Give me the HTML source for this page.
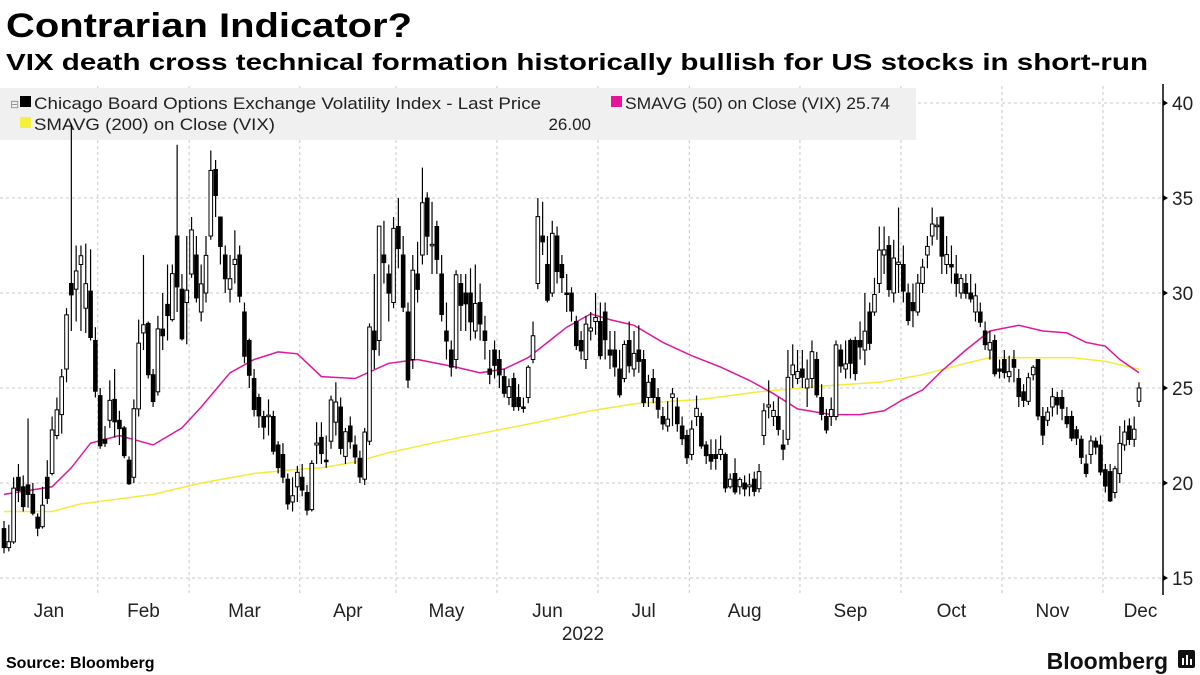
<!DOCTYPE html>
<html><head><meta charset="utf-8"><style>
body{margin:0;background:#fff;width:1200px;height:675px;overflow:hidden;font-family:"Liberation Sans",sans-serif}
svg{display:block}
</style></head><body>
<svg id="c" width="1200" height="675">
<text x="6" y="37" font-size="34" font-weight="bold" fill="#000" textLength="406" lengthAdjust="spacingAndGlyphs">Contrarian Indicator?</text>
<text x="6" y="70" font-size="23" font-weight="bold" fill="#000" textLength="1142" lengthAdjust="spacingAndGlyphs">VIX death cross technical formation historically bullish for US stocks in short-run</text>
<g id="grid"></g>
<rect x="0" y="88" width="916" height="52" fill="#f0f0f0"/>
<g font-size="17" fill="#222">
<g><text x="10" y="108" font-size="11" fill="#888">⊟</text><rect x="20" y="96" width="11" height="11" fill="#000"/><text x="34" y="109" textLength="507" lengthAdjust="spacingAndGlyphs">Chicago Board Options Exchange Volatility Index - Last Price</text></g>
<g><rect x="611" y="96" width="11" height="11" fill="#e6139b"/><text x="625" y="109" textLength="265" lengthAdjust="spacingAndGlyphs">SMAVG (50)  on Close (VIX) 25.74</text></g>
<g><rect x="20" y="117" width="11" height="11" fill="#f5f03c"/><text x="34" y="130" textLength="241" lengthAdjust="spacingAndGlyphs">SMAVG (200)  on Close (VIX)</text><text x="591" y="130" text-anchor="end">26.00</text></g>
</g>
<g id="lines"></g>
<g id="candles"></g>
<line x1="1163" y1="84" x2="1163" y2="595" stroke="#000" stroke-width="1.5"/>
<g id="yax"></g>
<g id="xax"></g>
<text x="583" y="640" font-size="19" text-anchor="middle" fill="#222">2022</text>
<text x="6" y="668" font-size="16" font-weight="bold" fill="#000">Source: Bloomberg</text>
<text x="1168" y="669" font-size="23" font-weight="bold" text-anchor="end" fill="#111">Bloomberg</text>
<g><rect x="1178" y="650" width="17" height="18" rx="2" fill="#111"/><rect x="1182" y="658" width="2" height="7" fill="#fff"/><rect x="1186" y="655" width="2" height="10" fill="#fff"/><rect x="1190" y="659" width="2" height="6" fill="#fff"/></g>
</svg>
<script>
const opens=[17.6,16.6,16.9,20.3,19.8,19.9,19.4,18.2,17.7,20.3,20.5,22.5,23.6,26.0,30.5,30.2,31.5,29.2,30.1,27.5,
24.6,22.3,23.3,24.4,23.3,22.9,21.2,20.3,23.9,27.9,28.4,25.7,24.8,28.1,29.4,28.6,33.0,30.2,29.5,
31.0,32.0,29.0,30.0,33.0,36.5,34.0,32.0,30.2,31.5,32.0,29.0,27.5,25.5,24.5,23.5,23.5,23.5,22.0,21.5,20.2,19.0,19.8,
20.3,19.5,18.6,22.0,22.4,21.2,22.2,23.2,24.0,21.4,23.0,22.0,21.3,20.2,22.2,28.0,27.5,32.0,31.0,29.5,
33.5,32.0,29.0,26.5,31.0,32.0,35.0,32.5,33.5,31.0,28.0,27.0,26.5,30.5,30.0,30.0,28.0,29.5,28.0,26.0,27.0,
26.5,25.6,24.5,25.5,24.5,24.0,24.5,26.5,30.5,33.0,31.5,30.0,33.0,31.5,30.0,30.0,28.5,27.5,26.5,28.0,28.5,
28.5,29.0,27.0,27.0,26.0,25.5,27.5,26.0,27.0,26.5,24.5,25.5,24.5,23.5,23.0,24.5,24.0,23.0,22.5,
21.5,23.5,23.5,22.0,21.5,21.5,21.5,21.5,19.8,20.5,19.8,20.0,19.8,20.2,19.7,22.5,24.0,23.5,23.5,22.0,22.3,25.7,25.5,
26.0,25.0,25.5,26.5,24.5,23.5,23.5,23.5,27.0,26.0,27.5,27.5,27.5,27.0,29.0,29.0,30.5,32.0,32.5,30.0,31.5,
31.5,30.0,29.5,29.0,30.5,32.0,33.0,33.5,34.0,31.5,31.5,31.0,30.0,30.5,30.0,29.0,29.0,28.0,27.0,27.5,26.0,
26.5,25.6,26.5,25.5,24.8,24.3,25.7,26.5,23.5,23.3,24.0,24.5,24.5,23.5,23.5,22.8,22.3,21.0,21.5,22.2,22.0,
20.7,20.6,19.5,20.5,22.0,23.0,22.3,24.3];
const highs=[18.0,17.8,20.3,21.0,20.4,23.4,20.0,18.4,19.8,21.2,23.5,24.5,26.0,29.2,38.9,32.5,32.5,32.6,32.3,28.2,
25.0,23.0,25.4,26.0,23.8,23.0,21.4,24.4,28.6,32.0,28.5,26.0,28.8,30.0,31.5,31.5,37.8,31.0,33.0,
34.0,33.0,31.5,33.0,37.5,37.0,34.0,32.5,32.0,33.3,32.5,29.5,27.6,26.0,24.7,23.8,24.4,23.8,22.2,22.1,20.5,20.3,20.9,
21.0,19.9,21.2,23.2,23.2,22.5,24.6,25.3,24.5,22.9,23.5,22.5,21.7,22.9,28.4,31.0,33.5,33.8,31.5,34.0,
35.0,33.0,29.5,32.0,32.7,36.6,35.3,34.8,33.8,32.0,29.5,27.5,31.2,31.0,31.0,31.3,31.5,30.5,28.8,27.0,27.5,
27.0,26.0,25.5,25.8,25.2,24.5,26.2,28.5,35.0,34.8,33.0,33.8,33.5,32.0,31.0,30.3,28.8,28.0,28.8,29.0,30.0,
29.5,29.5,28.0,28.0,27.0,27.5,28.5,28.0,28.3,27.0,25.7,26.0,25.0,24.0,24.3,25.0,24.5,23.5,22.8,
23.3,24.6,23.7,22.2,22.3,22.3,22.5,21.6,20.5,21.3,20.3,20.4,20.5,20.6,21.0,24.2,25.4,24.3,24.5,22.8,27.0,27.3,27.0,
27.0,26.5,27.5,26.9,25.2,23.9,24.5,27.5,27.3,27.5,27.6,27.7,28.5,30.0,29.5,30.8,33.5,33.5,33.0,32.8,34.5,
32.5,30.5,30.5,31.0,31.8,33.0,34.5,34.0,34.0,33.0,32.5,32.0,31.0,31.0,31.0,30.5,29.5,28.5,28.0,27.8,26.5,
27.0,26.7,27.0,26.0,25.2,25.8,26.2,26.5,24.0,24.0,25.0,24.8,24.9,24.0,23.8,23.0,22.5,21.5,22.5,22.4,22.5,
21.0,21.0,20.9,23.0,23.3,23.4,23.5,25.3];
const lows=[16.3,16.4,16.8,19.0,18.5,18.7,18.3,17.2,17.6,18.9,20.4,22.3,22.6,25.3,28.0,28.5,28.0,27.9,27.5,24.5,
21.8,21.9,22.9,22.4,22.0,21.3,19.9,20.0,23.5,27.0,25.5,24.0,24.6,27.0,27.5,28.5,29.0,27.5,27.3,
30.8,29.5,28.5,29.5,32.8,34.0,31.5,30.0,29.5,30.5,29.5,26.3,25.0,23.5,22.9,22.3,22.5,21.5,20.5,20.0,18.6,18.5,19.0,
19.3,18.3,18.5,21.0,21.0,20.8,21.8,22.5,21.5,21.0,21.8,21.0,20.0,19.9,22.0,26.0,26.7,30.5,28.5,29.2,
31.3,29.0,25.0,26.0,29.5,31.5,32.0,31.0,31.0,28.5,26.5,25.6,26.0,28.0,28.0,27.5,27.6,27.5,26.5,25.2,25.5,
25.0,24.5,24.1,23.8,23.8,23.7,24.2,26.3,30.2,32.0,29.5,29.8,30.5,30.0,29.0,28.5,27.0,26.5,26.0,27.5,27.8,
26.5,26.5,26.0,25.6,24.5,25.3,25.8,25.6,25.8,24.0,24.0,24.2,23.4,22.8,22.7,23.0,22.7,22.0,21.0,
21.2,23.0,21.8,21.0,20.7,20.7,21.2,19.5,19.7,19.4,19.4,19.3,19.3,19.3,19.5,22.0,23.4,23.0,22.5,21.2,22.0,25.0,25.2,
25.0,24.0,25.0,24.5,23.3,22.6,23.0,23.3,25.8,25.5,25.5,25.4,26.5,26.2,27.0,28.8,30.0,31.0,29.8,29.5,30.0,
29.5,28.3,28.2,28.8,30.0,31.3,32.5,32.8,31.0,31.0,30.5,29.8,29.7,29.7,29.5,28.5,28.2,27.0,26.5,25.6,25.5,
25.5,25.3,25.3,24.0,24.0,24.1,25.4,23.3,22.0,23.0,23.5,23.6,23.3,22.9,22.2,22.0,21.0,20.3,21.0,21.5,20.4,
19.5,19.0,19.2,20.0,21.7,22.0,21.9,24.0];
const closes=[16.60,16.91,19.73,19.61,18.76,19.40,18.41,17.62,18.83,19.19,22.79,23.85,25.59,28.85,29.90,31.16,31.96,30.49,27.66,24.83,
21.96,22.09,24.35,23.22,22.86,21.44,19.96,23.91,27.36,28.33,25.70,24.29,28.11,27.75,28.81,31.02,30.32,27.59,30.15,
33.32,29.74,30.48,31.98,36.45,35.13,32.45,30.75,30.75,31.77,29.83,26.67,25.67,23.87,23.53,22.94,23.57,21.67,20.81,20.31,18.90,19.33,20.56,
19.63,18.57,21.03,22.10,21.55,21.16,24.37,24.26,21.82,22.70,22.17,21.37,20.32,22.68,28.21,27.02,33.52,31.60,29.99,33.40,
32.34,29.25,25.42,31.20,30.19,34.75,32.99,32.56,31.77,28.87,27.47,26.10,30.96,29.35,29.43,28.48,29.45,28.37,27.50,25.72,26.19,
25.69,24.72,25.07,24.02,24.02,23.96,26.09,27.75,34.02,32.69,29.62,33.14,31.13,30.81,29.95,29.05,27.23,26.95,28.36,28.16,28.71,
26.70,27.54,26.73,26.11,24.64,27.29,26.17,26.82,26.40,24.23,25.30,24.50,23.88,23.11,23.36,24.69,23.12,22.33,21.33,
22.84,23.93,21.95,21.44,21.15,21.29,21.77,19.74,20.20,19.53,20.18,19.69,19.90,19.56,20.60,23.80,24.11,23.82,22.82,21.78,25.56,26.21,25.87,
25.56,25.47,26.91,24.64,23.61,22.79,23.87,27.27,26.16,26.27,26.30,25.76,27.16,27.99,27.35,29.92,32.26,32.27,30.18,31.84,31.62,
30.10,28.55,29.07,30.52,31.36,32.45,33.63,33.57,31.94,32.02,31.37,30.50,30.76,29.98,29.69,29.85,28.46,27.28,27.39,25.75,25.88,
25.81,25.86,26.09,24.55,24.35,25.54,26.09,23.53,22.52,23.73,24.54,24.11,23.93,23.12,22.36,22.36,21.35,20.50,22.21,21.89,20.58,
19.84,19.06,20.75,22.08,22.68,22.29,22.83,25.00];
const sma50Days=[0,10,14,18,24,31,37,41,47,52,57,61,66,73,80,86,94,99,104,109,113,117,122,126,131,137,143,149,155,160,165,172,178,183,187,191,195,200,205,211,216,221,225,229,232,236];
const sma50Vals=[19.4,19.8,20.8,22.1,22.5,22.0,22.9,24.0,25.8,26.5,26.9,26.8,25.6,25.5,26.3,26.5,26.1,25.8,26.0,26.6,27.4,28.2,28.9,28.6,28.3,27.4,26.7,26.1,25.4,24.7,23.9,23.6,23.6,23.8,24.4,24.9,25.9,27.0,28.0,28.3,28.0,27.9,27.4,27.2,26.5,25.8];
const sma200Days=[0,10,16,31,41,52,60,66,73,80,91,101,109,122,132,145,157,170,182,191,200,205,216,222,229,236];
const sma200Vals=[18.5,18.5,18.9,19.4,20.0,20.5,20.7,20.8,21.1,21.6,22.2,22.7,23.1,23.8,24.2,24.4,24.8,25.1,25.3,25.7,26.3,26.6,26.6,26.6,26.4,26.0];
const yTicks=[15,20,25,30,35,40];
const monthLabels=["Jan","Feb","Mar","Apr","May","Jun","Jul","Aug","Sep","Oct","Nov","Dec"];
const monthStarts=[0,20,39,62,82,103,124,143,166,187,208,229];

const NS="http://www.w3.org/2000/svg";
const X0=4,X1=1139,N=closes.length;
function xs(i){return X0+i*(X1-X0)/(N-1);}
function ys(v){return 483-(v-20)*19;}
function mk(t,a,p){const e=document.createElementNS(NS,t);for(const k in a)e.setAttribute(k,a[k]);p.appendChild(e);return e;}
const grid=document.getElementById('grid');
yTicks.forEach(v=>{const l=mk('line',{x1:0,x2:1163,y1:ys(v),y2:ys(v),stroke:'#c8c8c8','stroke-dasharray':'3,3'},grid);

});
const yax=document.getElementById('yax');
yTicks.forEach(v=>{const p=mk('path',{d:`M1163 ${ys(v)-3}L1168 ${ys(v)}L1163 ${ys(v)+3}Z`,fill:'#000'},yax);


const t=mk('text',{x:1172,y:ys(v)+7,'font-size':19,fill:'#222'},yax);t.textContent=v;

});
const xax=document.getElementById('xax');
monthStarts.forEach((s,k)=>{
  const gx=s===0?0:(xs(s)+xs(s-1))/2;
  if(s>0){const l=mk('line',{x1:gx,x2:gx,y1:86,y2:595,stroke:'#c8c8c8','stroke-dasharray':'3,3'},grid);
  
  }
  const nx=k<11?(xs(monthStarts[k+1])+xs(monthStarts[k+1]-1))/2:1178;
  const t=mk('text',{x:(gx+nx)/2,y:617,'font-size':19,'text-anchor':'middle',fill:'#222'},xax);t.textContent=monthLabels[k];
  
  
});
const lines=document.getElementById('lines');
function path(days,vals,col,name){let d='';days.forEach((dd,i)=>{d+=(i?'L':'M')+xs(dd).toFixed(1)+' '+ys(vals[i]).toFixed(1);});
const p=mk('path',{d:d,fill:'none',stroke:col,'stroke-width':1.5},lines);

}
path(sma200Days,sma200Vals,'#f2ec3a','sma200-line');
path(sma50Days,sma50Vals,'#e0189a','sma50-line');
const cg=document.getElementById('candles');
for(let i=0;i<N;i++){
  const x=xs(i),o=opens[i],c=closes[i],up=c>=o;
  const g=mk('g',{},cg);
  
  
  mk('line',{x1:x,x2:x,y1:ys(highs[i]),y2:ys(lows[i]),stroke:'#000','stroke-width':1.2},g);
  const top=ys(Math.max(o,c)),h=Math.max(1.5,Math.abs(ys(o)-ys(c)));
  mk('rect',{x:x-1.8,y:top,width:3.6,height:h,fill:up?'#fff':'#000',stroke:'#000','stroke-width':1},g);
}
</script>
</body></html>
